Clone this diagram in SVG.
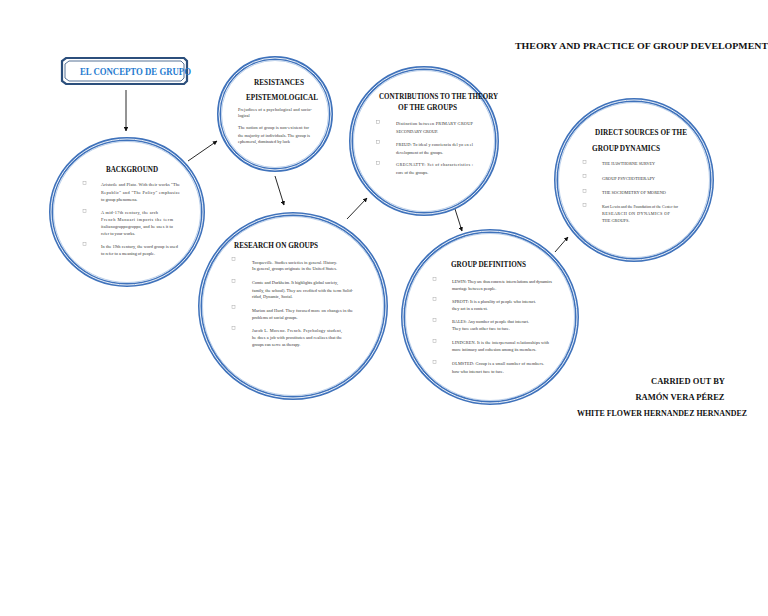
<svg xmlns="http://www.w3.org/2000/svg" width="768" height="616" viewBox="0 0 768 616">
<style>
.ring{fill:#fff;stroke:#3f72bb;stroke-width:4}
.ringin{fill:none;stroke:#fff;stroke-width:0.9}
.ringin2{fill:none;stroke:#8fb0dc;stroke-width:0.6}
.h{font-family:"Liberation Serif",serif;font-weight:bold;font-size:7.4px;fill:#111}
.t{font-family:"Liberation Serif",serif;font-size:4.3px;fill:#333}
.b{fill:#fff;stroke:#aaa;stroke-width:0.5}
.c{stroke:#111;stroke-width:0.9;fill:none;marker-end:url(#ah)}
.big{font-family:"Liberation Serif",serif;font-weight:bold;font-size:8.5px;fill:#111}
</style>
<defs>
<marker id="ah" viewBox="0 0 10 10" refX="9" refY="5" markerWidth="5" markerHeight="5" orient="auto"><path d="M0,0 L10,5 L0,10 z" fill="#111"/></marker>
</defs>
<rect width="768" height="616" fill="#fff"/>

<text class="big" x="515" y="49" textLength="253" lengthAdjust="spacingAndGlyphs">THEORY AND PRACTICE OF GROUP DEVELOPMENT</text>

<g id="title">
<path d="M66,58 H184 L187,61 V81 L184,84 H66 L62,81 V61 Z" fill="#fff" stroke="#2c4f7c" stroke-width="2.2"/>
<path d="M69,61 H181 L184,64 V78 L181,81 H69 L65,78 V64 Z" fill="none" stroke="#2c4f7c" stroke-width="0.8"/>
<text x="80" y="75" font-family="Liberation Serif,serif" font-weight="bold" font-size="9.5" fill="#1f7bd0" textLength="111" lengthAdjust="spacingAndGlyphs">EL CONCEPTO DE GRUPO</text>
</g>

<g id="connectors">
<line class="c" x1="126" y1="90" x2="126" y2="131"/>
<line class="c" x1="188" y1="161" x2="217" y2="141"/>
<line class="c" x1="275" y1="176" x2="284" y2="205"/>
<line class="c" x1="347" y1="219" x2="367" y2="198"/>
<line class="c" x1="455" y1="209" x2="462" y2="231"/>
<line class="c" x1="555" y1="252" x2="568" y2="237"/>
</g>

<g id="background">
<ellipse class="ring" cx="127" cy="212" rx="76" ry="73"/>
<ellipse class="ringin" cx="127" cy="212" rx="76" ry="73"/>
<ellipse class="ringin2" cx="127" cy="212" rx="73.5" ry="70.5"/>
<text class="h" x="106" y="172" textLength="52" lengthAdjust="spacingAndGlyphs">BACKGROUND</text>
<rect class="b" x="83" y="181.5" width="3" height="3"/>
<text class="t" x="101" y="185.5" textLength="79" lengthAdjust="spacing">Aristotle and Plato. With their works "The</text>
<text class="t" x="101" y="193.5" textLength="79" lengthAdjust="spacing">Republic" and "The Policy" emphasize</text>
<text class="t" x="101" y="200.5">to group phenomena.</text>
<rect class="b" x="83" y="209.5" width="3" height="3"/>
<text class="t" x="101" y="213.5" textLength="57" lengthAdjust="spacing">A mid-17th century, the arch</text>
<text class="t" x="101" y="220.5" textLength="72" lengthAdjust="spacing">French Manuari imports the term</text>
<text class="t" x="101" y="227.5" textLength="72" lengthAdjust="spacing">italianogruppogroppo, and he uses it to</text>
<text class="t" x="101" y="234.5">refer to your works.</text>
<rect class="b" x="83" y="242.5" width="3" height="3"/>
<text class="t" x="101" y="247.5" textLength="77" lengthAdjust="spacing">In the 19th century, the word group is used</text>
<text class="t" x="101" y="254.5">to refer to a meaning of people.</text>
</g>

<g id="resistances">
<ellipse class="ring" cx="275" cy="114" rx="56" ry="56"/>
<ellipse class="ringin" cx="275" cy="114" rx="56" ry="56"/>
<ellipse class="ringin2" cx="275" cy="114" rx="53.5" ry="53.5"/>
<text class="h" x="254" y="85" textLength="50" lengthAdjust="spacingAndGlyphs">RESISTANCES</text>
<text class="h" x="246" y="100" textLength="72" lengthAdjust="spacingAndGlyphs">EPISTEMOLOGICAL</text>
<text class="t" x="238" y="110.5" textLength="74" lengthAdjust="spacing">Prejudices of a psychological and socio-</text>
<text class="t" x="238" y="116.5">logical</text>
<text class="t" x="238" y="128.5" textLength="71" lengthAdjust="spacing">The notion of group is non-existent for</text>
<text class="t" x="238" y="136.5" textLength="72" lengthAdjust="spacing">the majority of individuals. The group is</text>
<text class="t" x="238" y="142.5">ephemeral, dominated by luck</text>
</g>

<g id="research">
<ellipse class="ring" cx="293" cy="306" rx="93" ry="92"/>
<ellipse class="ringin" cx="293" cy="306" rx="93" ry="92"/>
<ellipse class="ringin2" cx="293" cy="306" rx="90.5" ry="89.5"/>
<text class="h" x="234" y="248" textLength="84" lengthAdjust="spacingAndGlyphs">RESEARCH ON GROUPS</text>
<rect class="b" x="232" y="257.5" width="3" height="3"/>
<text class="t" x="252" y="263.5" textLength="85" lengthAdjust="spacing">Tocqueville. Studies societies in general. History.</text>
<text class="t" x="252" y="269.5" textLength="85" lengthAdjust="spacing">In general, groups originate in the United States.</text>
<rect class="b" x="232" y="279.5" width="3" height="3"/>
<text class="t" x="252" y="283.5" textLength="86" lengthAdjust="spacing">Comte and Durkheim. It highlights global society,</text>
<text class="t" x="252" y="291.5" textLength="101" lengthAdjust="spacing">family, the school). They are credited with the term Solid-</text>
<text class="t" x="252" y="297.5">ridad, Dynamic, Social.</text>
<rect class="b" x="232" y="305.5" width="3" height="3"/>
<text class="t" x="252" y="311.5" textLength="101" lengthAdjust="spacing">Marion and Hurd. They focused more on changes in the</text>
<text class="t" x="252" y="318.5">problems of social groups.</text>
<rect class="b" x="232" y="326.5" width="3" height="3"/>
<text class="t" x="252" y="331.5" textLength="90" lengthAdjust="spacing">Jacob L. Moreno. French. Psychology student,</text>
<text class="t" x="252" y="338.5" textLength="90" lengthAdjust="spacing">he does a job with prostitutes and realizes that the</text>
<text class="t" x="252" y="345.5">groups can serve as therapy.</text>
</g>

<g id="contributions">
<ellipse class="ring" cx="424" cy="141" rx="73" ry="73"/>
<ellipse class="ringin" cx="424" cy="141" rx="73" ry="73"/>
<ellipse class="ringin2" cx="424" cy="141" rx="70.5" ry="70.5"/>
<text class="h" x="379" y="99" textLength="119" lengthAdjust="spacingAndGlyphs">CONTRIBUTIONS TO THE THEORY</text>
<text class="h" x="398" y="110" textLength="59" lengthAdjust="spacingAndGlyphs">OF THE GROUPS</text>
<rect class="b" x="376.5" y="120.5" width="3" height="3"/>
<text class="t" x="396" y="124.5" textLength="77" lengthAdjust="spacing">Distinction between PRIMARY GROUP</text>
<text class="t" x="396" y="132.5">SECONDARY GROUP.</text>
<rect class="b" x="376.5" y="140.5" width="3" height="3"/>
<text class="t" x="396" y="145.5" textLength="77" lengthAdjust="spacing">FREUD: To ideal y conciencia del yo en el</text>
<text class="t" x="396" y="153.5">development of the groups.</text>
<rect class="b" x="376.5" y="161.5" width="3" height="3"/>
<text class="t" x="396" y="165.5" textLength="77" lengthAdjust="spacing">GREGNATTY: Set of characteristics :</text>
<text class="t" x="396" y="173.5">core of the groups.</text>
</g>

<g id="definitions">
<ellipse class="ring" cx="490" cy="317" rx="87" ry="86"/>
<ellipse class="ringin" cx="490" cy="317" rx="87" ry="86"/>
<ellipse class="ringin2" cx="490" cy="317" rx="84.5" ry="83.5"/>
<text class="h" x="451" y="267" textLength="75" lengthAdjust="spacingAndGlyphs">GROUP DEFINITIONS</text>
<rect class="b" x="433" y="277.5" width="3" height="3"/>
<text class="t" x="452" y="282.5" textLength="100" lengthAdjust="spacing">LEWIN: They are thus concrete interrelations and dynamics</text>
<text class="t" x="452" y="289.5">marriage between people.</text>
<rect class="b" x="433" y="297.5" width="3" height="3"/>
<text class="t" x="452" y="302.5">SPROTT: It is a plurality of people who interact.</text>
<text class="t" x="452" y="309.5">they act in a context.</text>
<rect class="b" x="433" y="318.5" width="3" height="3"/>
<text class="t" x="452" y="322.5">BALES: Any number of people that interact.</text>
<text class="t" x="452" y="329.5" font-size="3.4">They face each other face to face.</text>
<rect class="b" x="433" y="339.5" width="3" height="3"/>
<text class="t" x="452" y="343.5" textLength="97" lengthAdjust="spacing">LINDGREN. It is the interpersonal relationships with</text>
<text class="t" x="452" y="350.5">more intimacy and cohesion among its members.</text>
<rect class="b" x="433" y="360.5" width="3" height="3"/>
<text class="t" x="452" y="364.5" textLength="92" lengthAdjust="spacing">OLMSTED: Group is a small number of members.</text>
<text class="t" x="452" y="372.5">how who interact face to face.</text>
</g>

<g id="sources">
<ellipse class="ring" cx="634" cy="180" rx="78" ry="80"/>
<ellipse class="ringin" cx="634" cy="180" rx="78" ry="80"/>
<ellipse class="ringin2" cx="634" cy="180" rx="75.5" ry="77.5"/>
<text class="h" x="595" y="135" textLength="92" lengthAdjust="spacingAndGlyphs">DIRECT SOURCES OF THE</text>
<text class="h" x="592" y="151" textLength="68" lengthAdjust="spacingAndGlyphs">GROUP DYNAMICS</text>
<rect class="b" x="583" y="160.5" width="3" height="3"/>
<text class="t" x="602" y="164.5" font-size="3.6" textLength="53" lengthAdjust="spacingAndGlyphs">THE HAWTHORNE SURVEY</text>
<rect class="b" x="583" y="174.5" width="3" height="3"/>
<text class="t" x="602" y="179.5" font-size="3.6" textLength="53" lengthAdjust="spacingAndGlyphs">GROUP PSYCHOTHERAPY</text>
<rect class="b" x="583" y="189.5" width="3" height="3"/>
<text class="t" x="602" y="193.5" font-size="3.6" textLength="64" lengthAdjust="spacingAndGlyphs">THE SOCIOMETRY OF MORENO</text>
<rect class="b" x="583" y="203.5" width="3" height="3"/>
<text class="t" x="602" y="207.5" font-size="3.4" textLength="76" lengthAdjust="spacingAndGlyphs">Kurt Lewin and the Foundation of the Center for</text>
<text class="t" x="602" y="214.5" textLength="68" lengthAdjust="spacing">RESEARCH ON DYNAMICS OF</text>
<text class="t" x="602" y="221.5">THE GROUPS.</text>
</g>

<g id="credits">
<text class="big" x="688" y="384" text-anchor="middle" font-size="8">CARRIED OUT BY</text>
<text class="big" x="680" y="400" text-anchor="middle" font-size="8">RAMÓN VERA PÉREZ</text>
<text class="big" x="577" y="416" font-size="8" textLength="170" lengthAdjust="spacingAndGlyphs">WHITE FLOWER HERNANDEZ HERNANDEZ</text>
</g>
</svg>
